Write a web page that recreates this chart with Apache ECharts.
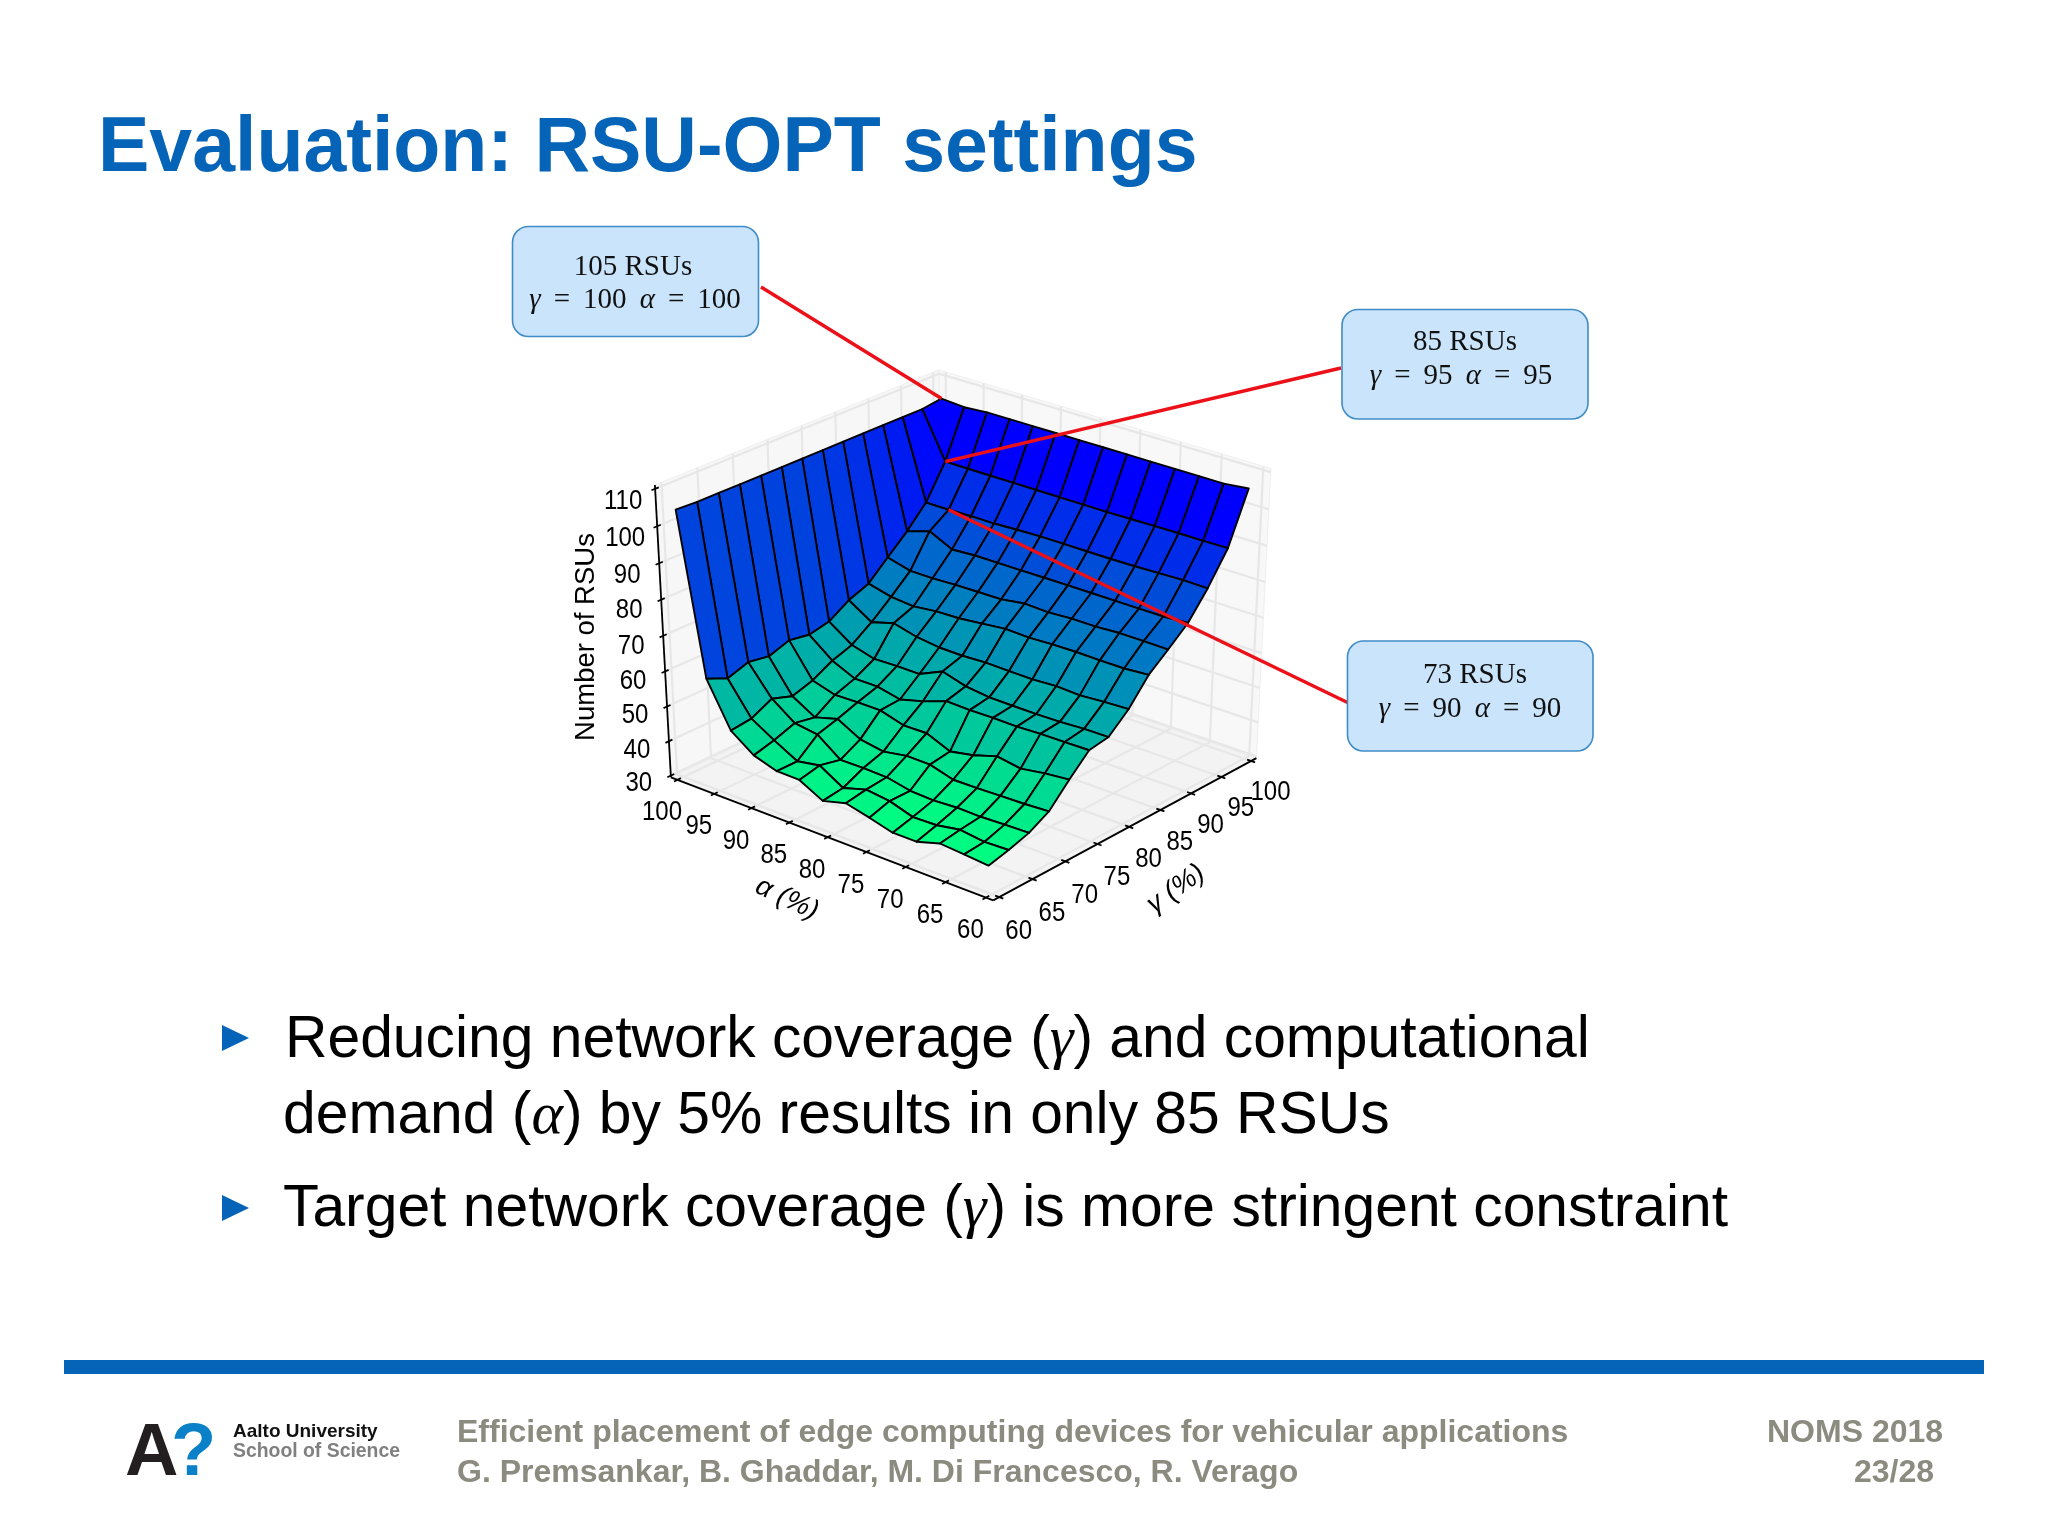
<!DOCTYPE html>
<html><head><meta charset="utf-8">
<style>html,body{margin:0;padding:0;background:#fff}#c{width:2048px;height:1536px}</style>
<script src="https://cdn.jsdelivr.net/npm/echarts@6/dist/echarts.min.js"></script>
</head><body><div id="c"></div>
<script>
const alphaGrid=[60.6,63.6,66.6,69.55,72.55,75.5,78.5,81.5,84.5,87.45,90.45,93.4,96.4,99.4];
const gammaGrid=[60.2,63.2,66.25,69.25,72.3,75.3,78.3,81.35,84.4,87.4,90.45,93.45,96.5,99.5];
const rsuA60=[36.9,38.3,40.1,43.2,49.2,54.6,55.5,60.5,67.3,71.7,76.4,83.4,91.9,105.7];
const rsuA63=[37.5,38,39.9,42.8,48.5,54.5,55.4,60.2,66.8,71.8,76,83.5,91.8,105];
const rsuA66=[38,38.9,39.6,42.6,47.4,54.4,55,59.7,66.8,71.8,76,83.3,91.8,105];
const rsuA69=[36,37.7,39.7,42.4,48.5,54.1,54.9,60,66.9,71.4,76,83.1,91.7,105];
const rsuA72=[36,37.5,39.3,42.3,46.4,54.2,54.9,59.6,66.8,71.4,76,83,91.6,105];
const rsuA75=[37.8,39.6,39.6,44.2,45.1,54.1,55,59.7,66.5,71,76,83,91.5,105];
const rsuA78=[39.4,40.4,41,44.3,47.9,54.3,55.8,59.8,66.7,71.3,76,83,91.5,105];
const rsuA81=[37.6,38.4,41.2,43.1,47.8,51.9,57.7,59.5,66,70.3,75.9,83,91.5,105];
const rsuA84=[41.1,42.4,41.1,44.2,49.7,50.1,54.7,59.6,65.3,70.2,75.9,82.8,91.5,105];
const rsuA87=[41.2,41.2,46,47.7,49.7,51.5,54.7,60.4,65.1,70.1,75.9,82.5,91.5,105];
const rsuA90=[43.3,44.8,46.9,45.8,49.5,51.5,54.5,62.1,64.3,69.8,75.5,82.5,91.5,105];
const rsuA93=[48,48.7,51.6,49.6,51.4,54.4,56.3,60.2,64.9,69.8,78.6,82.3,91.5,105];
const rsuA96=[60.4,57.8,59.7,58.7,60.6,59.6,60.8,64.3,66.5,71.5,76.5,82.3,91.5,104.5];
const rsuA100=[104.6,104.3,104.3,104.3,104.3,104.3,104.3,104.3,104.3,104.3,104.3,104.3,104.3,105];
const rsu=[rsuA60,rsuA63,rsuA66,rsuA69,rsuA72,rsuA75,rsuA78,rsuA81,rsuA84,rsuA87,rsuA90,rsuA93,rsuA96,rsuA100];
const alphaTicks=[100,95,90,85,80,75,70,65,60];
const gammaTicks=[60,65,70,75,80,85,90,95,100];
const zTicks=[30,40,50,60,70,80,90,100,110];
const calloutTitles=['105 RSUs','85 RSUs','73 RSUs'];
const calloutLines=['{g|γ} \u2009=\u2009 100 \u2009{g|α} \u2009=\u2009 100','{g|γ} \u2009=\u2009 95 \u2009{g|α} \u2009=\u2009 95','{g|γ} \u2009=\u2009 90 \u2009{g|α} \u2009=\u2009 90'];
const calloutNodes=[[13,13],[12,12],[11,11]];

// view of the 3D box: pinhole parameters of the camera
const VIEW={O:[993.2,900.4],PA:[670.9,777.3],PG:[1256.4,758.1],VZ:[976.2,6360],a:.0567,b:.0692,c:-.05257};
const DOM={aMin:59.1,aMax:100.9,gMin:59.1,gMax:100.9,zMin:29.5,zMax:111};
function proj(u,v,w){
  const {O,PA,PG,VZ,a,b,c}=VIEW;
  const d=1+u*a+v*b+w*c;
  const f=k=>(O[k]+u*((1+a)*PA[k]-O[k])+v*((1+b)*PG[k]-O[k])+w*c*VZ[k])/d;
  return [f(0),f(1)];
}
const U=a=>(a-DOM.aMin)/(DOM.aMax-DOM.aMin);
const V=g=>(g-DOM.gMin)/(DOM.gMax-DOM.gMin);
const W=z=>(z-DOM.zMin)/(DOM.zMax-DOM.zMin);

const cells=[];
for(let i=12;i>=0;i--)for(let j=12;j>=0;j--){
  cells.push([i,j,(rsu[i][j]+rsu[i+1][j]+rsu[i][j+1]+rsu[i+1][j+1])/4]);
}
function line(api,p,q,stroke,lw){
  return {type:'line',shape:{x1:api.coord(p)[0],y1:api.coord(p)[1],x2:api.coord(q)[0],y2:api.coord(q)[1]},style:{stroke,lineWidth:lw},silent:true};
}
function poly(api,pts,fill,stroke,lw){
  return {type:'polygon',shape:{points:pts.map(p=>api.coord(p))},style:{fill,stroke,lineWidth:lw,lineJoin:'round'},silent:true};
}
function txt(x,y,text,o){
  o=o||{};
  const el={type:'text',x,y,rotation:o.rot||0,scaleY:o.sy||1,silent:true,style:{x:0,y:0,text,
    fill:o.fill||'#000',fontSize:o.size||24,fontFamily:o.fam||'"Liberation Sans"',fontWeight:o.w||'normal',fontStyle:o.st||'normal',
    align:o.al||'center',textAlign:o.al||'center',verticalAlign:'middle',textVerticalAlign:'middle'}};
  return el;
}
function paneItem(params,api){
  const G=[];
  const P=proj;
  G.push(poly(api,[P(1,0,0),P(1,1,0),P(1,1,1),P(1,0,1)],'#f7f7f7','#efefef',1));
  G.push(poly(api,[P(0,1,0),P(1,1,0),P(1,1,1),P(0,1,1)],'#f8f8f8','#efefef',1));
  G.push(poly(api,[P(0,0,0),P(1,0,0),P(1,1,0),P(0,1,0)],'#f3f3f3','#ececec',1));
  const gc='#e7e7e7',lw=2.2;
  alphaTicks.forEach(a=>{const u=U(a);
    G.push(line(api,P(u,0,0),P(u,1,0),gc,lw));G.push(line(api,P(u,1,0),P(u,1,1),gc,lw));});
  gammaTicks.forEach(g=>{const v=V(g);
    G.push(line(api,P(0,v,0),P(1,v,0),gc,lw));G.push(line(api,P(1,v,0),P(1,v,1),gc,lw));});
  zTicks.forEach(z=>{const w=W(z);
    G.push(line(api,P(1,0,w),P(1,1,w),gc,lw));G.push(line(api,P(0,1,w),P(1,1,w),gc,lw));});
  return {type:'group',children:G};
}
function cellItem(params,api){
  const i=api.value(0),j=api.value(1);
  const p=(ii,jj)=>proj(U(alphaGrid[ii]),V(gammaGrid[jj]),W(rsu[ii][jj]));
  return poly(api,[p(i,j),p(i+1,j),p(i+1,j+1),p(i,j+1)],api.visual('color'),'#000',1.9);
}
function axisItem(params,api){
  const G=[],P=proj,c='#000',lw=1.8,LS=1.15,sz=24;
  G.push(line(api,P(0,0,0),P(1,0,0),c,lw));
  G.push(line(api,P(0,0,0),P(0,1,0),c,lw));
  G.push(line(api,P(1,0,0),P(1,0,1),c,lw));
  alphaTicks.forEach(a=>{const u=U(a),A=P(u,-.012,0),B=P(u,.012,0);
    G.push(line(api,A,B,c,lw));
    const q=api.coord(P(u,0,0));G.push(txt(q[0]-15.5,q[1]+33,String(a),{size:sz,sy:LS}));});
  gammaTicks.forEach(g=>{const v=V(g),A=P(-.012,v,0),B=P(.012,v,0);
    G.push(line(api,A,B,c,lw));
    const q=api.coord(P(0,v,0));G.push(txt(q[0]+19.4,q[1]+31+(100-g)*.0875,String(g),{size:sz,sy:LS}));});
  zTicks.forEach(z=>{const w=W(z),A=P(1,-.012,w),B=P(1,.012,w);
    G.push(line(api,A,B,c,lw));
    const q=api.coord(P(1,0,w));G.push(txt(q[0]-32,q[1]+8+(z-30)*.0625,String(z),{size:sz,sy:LS}));});
  G.push(txt(586.5,637,'Number of RSUs',{size:27.5,rot:Math.PI/2}));
  G.push(txt(787,899,'α (%)',{size:27.5,rot:-.44,st:'italic'}));
  G.push(txt(1176,889,'γ (%)',{size:27.5,rot:.62,st:'italic'}));
  return {type:'group',children:G};
}
const leaderFrom=[[761,287],[1341,368],[1347.5,702.5]];
function leaderItem(params,api){
  const k=api.value(0),[ii,jj]=calloutNodes[k];
  const to=proj(U(alphaGrid[ii]),V(gammaGrid[jj]),W(rsu[ii][jj]));
  return line(api,leaderFrom[k],to,'#ec1118',3.5);
}
const BLUE='#0564b8';
function T(x,y,text,o){
  o=o||{};
  const s={x,y,text,fill:o.fill||'#000',fontSize:o.size,fontFamily:o.fam||'"Liberation Sans"',fontWeight:o.w||'normal',
    align:o.al||'left',textAlign:o.al||'left',verticalAlign:'middle',textVerticalAlign:'middle'};
  if(o.rich)s.rich=o.rich;
  return {type:'text',silent:true,z:20,style:s};
}
function box(x,y,w,h){
  return {type:'rect',silent:true,z:10,shape:{x,y,width:w,height:h,r:16},style:{fill:'#c9e4fb',stroke:'#3f8cc6',lineWidth:1.6}};
}
const serifRich={g:{fontStyle:'italic',fontFamily:'"Liberation Serif"',fontSize:29,fill:'#111'}};
const bodyRich={g:{fontStyle:'italic',fontFamily:'"Liberation Serif"',fontSize:60,fill:'#000'}};
const SER='"Liberation Serif"';
const GR='#8b8b80';
const graphics=[
  T(98,150,'Evaluation: RSU-OPT settings',{size:77,w:'bold',fill:BLUE}),
  box(512.5,226.5,246,110),box(1342,309.5,246,109.5),box(1347.5,641,245.5,110),
  T(633,267.5,calloutTitles[0],{size:29,fam:SER,al:'center',fill:'#111'}),
  T(635,300.5,calloutLines[0],{size:29,fam:SER,al:'center',fill:'#111',rich:serifRich}),
  T(1465,342.5,calloutTitles[1],{size:29,fam:SER,al:'center',fill:'#111'}),
  T(1461,376.5,calloutLines[1],{size:29,fam:SER,al:'center',fill:'#111',rich:serifRich}),
  T(1475,675,calloutTitles[2],{size:29,fam:SER,al:'center',fill:'#111'}),
  T(1470,709,calloutLines[2],{size:29,fam:SER,al:'center',fill:'#111',rich:serifRich}),
  {type:'polygon',silent:true,z:20,shape:{points:[[222,1025],[249,1038],[222,1051]]},style:{fill:BLUE}},
  {type:'polygon',silent:true,z:20,shape:{points:[[222,1195],[249,1208],[222,1221]]},style:{fill:BLUE}},
  T(285,1041,'Reducing network coverage ({g|γ}) and computational',{size:58.8,rich:bodyRich}),
  T(283,1117,'demand ({g|α}) by 5% results in only 85 RSUs',{size:58.8,rich:bodyRich}),
  T(283,1210,'Target network coverage ({g|γ}) is more stringent constraint',{size:58.8,rich:bodyRich}),
  {type:'rect',silent:true,z:20,shape:{x:64,y:1360,width:1920,height:14},style:{fill:BLUE}},
  T(125,1455,'A',{size:74,w:'bold',fill:'#231f20'}),
  T(171,1455,'?',{size:74,w:'bold',fill:'#0a80c8'}),
  T(233,1432,'Aalto University',{size:19,w:'bold',fill:'#111'}),
  T(233,1452,'School of Science',{size:19.4,w:'bold',fill:'#808080'}),
  T(457,1433,'Efficient placement of edge computing devices for vehicular applications',{size:32,w:'bold',fill:GR}),
  T(457,1473,'G. Premsankar, B. Ghaddar, M. Di Francesco, R. Verago',{size:32,w:'bold',fill:GR}),
  T(1767,1433,'NOMS 2018',{size:32,w:'bold',fill:GR}),
  T(1854,1473,'23/28',{size:32,w:'bold',fill:GR})
];
const chart=echarts.init(document.getElementById('c'),null,{renderer:'canvas'});
chart.setOption({
  animation:false,backgroundColor:'#fff',
  grid:{left:0,right:0,top:0,bottom:0},
  xAxis:{type:'value',min:0,max:2048,show:false},
  yAxis:{type:'value',min:0,max:1536,inverse:true,show:false},
  visualMap:{show:false,type:'continuous',seriesIndex:1,dimension:2,min:37,max:98,inRange:{color:['#00ff80','#0000ff']}},
  graphic:graphics,
  series:[
    {type:'custom',name:'panes',coordinateSystem:'cartesian2d',clip:false,data:[[0]],renderItem:paneItem,z:1,silent:true},
    {type:'custom',name:'RSUs',coordinateSystem:'cartesian2d',clip:false,data:cells,encode:{x:0,y:1},renderItem:cellItem,z:2,silent:true},
    {type:'custom',name:'axes',coordinateSystem:'cartesian2d',clip:false,data:[[0]],renderItem:axisItem,z:3,silent:true},
    {type:'custom',name:'leaders',coordinateSystem:'cartesian2d',clip:false,data:[[0],[1],[2]],renderItem:leaderItem,z:4,silent:true}
  ]
});
</script></body></html>
